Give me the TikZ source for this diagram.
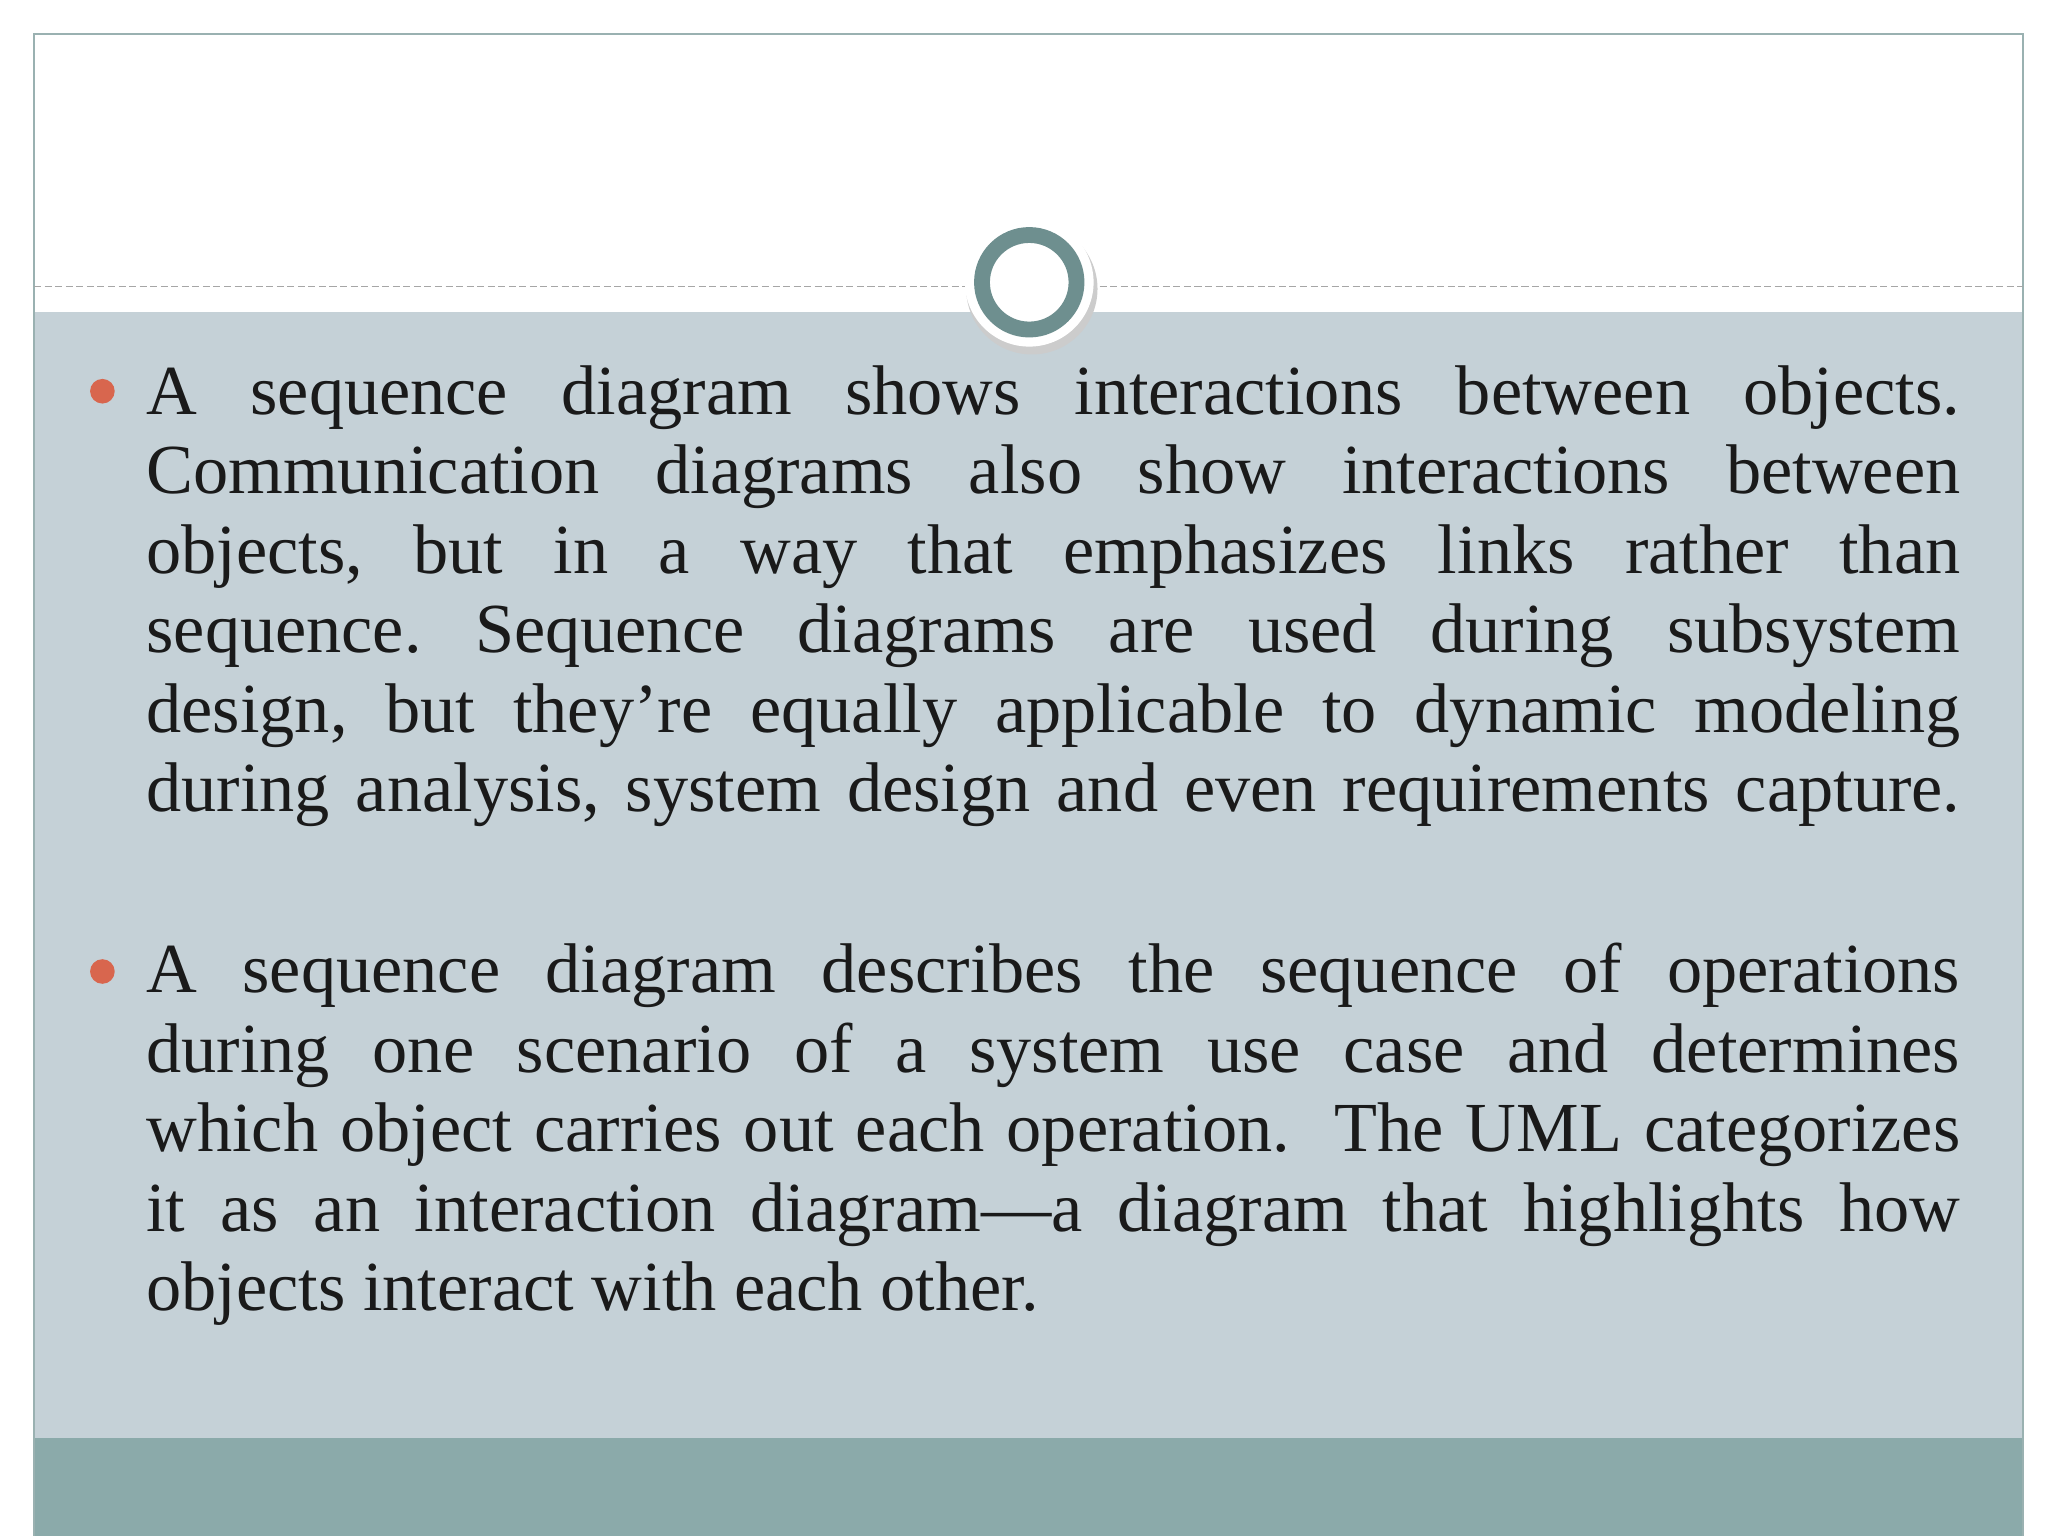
\documentclass[tikz,border=0pt]{standalone}
\usepackage{fontspec}
\setmainfont{Liberation Serif}
\frenchspacing
\definecolor{panel}{HTML}{C5D1D7}
\definecolor{band}{HTML}{8BAAAA}
\definecolor{ring}{HTML}{6E8F8F}
\definecolor{bul}{HTML}{D8664E}
\definecolor{txt}{HTML}{1A1A1A}
\tikzset{para/.style={anchor=north west,inner sep=0pt,text=txt,font=\fontsize{20}{22.6}\selectfont},
 bullet/.style={circle,fill=bul,inner sep=0pt,minimum size=7pt}}
\begin{document}
\begin{tikzpicture}[x=0.013128cm,y=-0.013128cm]
\useasboundingbox (0,0) rectangle (1560,1170);
\fill[white] (0,0) rectangle (1560,1170);
\fill[panel] (26,238) rectangle (1541,1095);
\fill[band] (26,1095) rectangle (1541,1170);
\draw[ring!70,line width=0.5pt] (26,1170) -- (26,26) -- (1541,26) -- (1541,1170);
\draw[gray!70,dashed,line width=0.4pt,dash pattern=on 2pt off 1pt] (26,218) -- (1541,218);
\fill[black!20] (786,220) circle (50);
\fill[white] (784,215) circle (49);
\draw[ring,line width=4.5pt] (784,215) circle (36);
\node[bullet] (b1) at (78,298) {};
\node[bullet] (b2) at (78,740) {};
\node[para] (p1) at (111,278) {\begin{minipage}[t]{18.13cm}\setlength{\parfillskip}{0pt}\spaceskip=0.25em plus 3em minus 0.05em
A sequence diagram shows interactions between objects.\linebreak Communication diagrams also show interactions between\linebreak objects, but in a way that emphasizes links rather than\linebreak sequence. Sequence diagrams are used during subsystem\linebreak design, but they’re equally applicable to dynamic modeling\linebreak during analysis, system design and even requirements capture.\end{minipage}};
\node[para] (p2) at (111,718) {\begin{minipage}[t]{18.13cm}\spaceskip=0.25em plus 3em minus 0.05em
A sequence diagram describes the sequence of operations\linebreak during one scenario of a system use case and determines\linebreak which object carries out each operation.\ \ The UML categorizes\linebreak it as an interaction diagram—a diagram that highlights how\linebreak objects interact with each other.\end{minipage}};
\end{tikzpicture}
\end{document}
